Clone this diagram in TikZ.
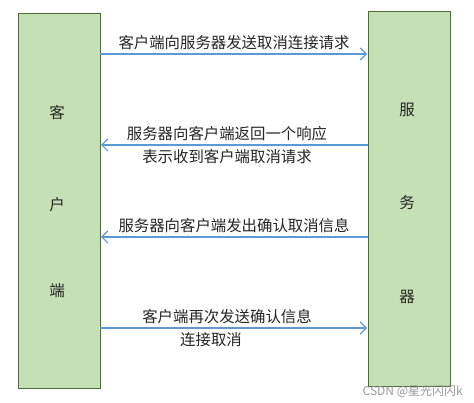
\documentclass[tikz,border=0pt]{standalone}
\usepackage{fontspec}
\setmainfont{Noto Sans CJK SC}
\usetikzlibrary{arrows.meta}
\definecolor{boxfill}{HTML}{C5E0B4}
\definecolor{boxline}{HTML}{4E6B3A}
\definecolor{arrowblue}{HTML}{5B9BD5}
\begin{document}
\begin{tikzpicture}[x=1pt,y=-1pt,
  party/.style={draw=boxline,fill=boxfill,line width=1pt,minimum width=82pt,minimum height=375pt,inner sep=0pt,anchor=north west},
  msg/.style={draw=arrowblue,line width=1.2pt,-{Straight Barb[length=6pt,width=12pt,line width=1.2pt]}},
  lbl/.style={font=\fontsize{15.4}{17}\selectfont,text=black!85,inner sep=0pt},
  vlbl/.style={font=\fontsize{15.5}{17}\selectfont,text=black!85,inner sep=0pt}]
\useasboundingbox (0,0) rectangle (474,403);
\fill[white] (0,0) rectangle (474,403);
\node[party] (client) at (18,13) {};
\node[party] (server) at (368,11) {};
\node[vlbl] (c1) at (57,113) {客};
\node[vlbl] (c2) at (57,205) {户};
\node[vlbl] (c3) at (57,291) {端};
\node[vlbl] (s1) at (407,110) {服};
\node[vlbl] (s2) at (407,203) {务};
\node[vlbl] (s3) at (407,297) {器};
\coordinate (a1s) at (100,54); \coordinate (a1e) at (367,54);
\coordinate (a2s) at (368,145); \coordinate (a2e) at (101,145);
\coordinate (a3s) at (368,237); \coordinate (a3e) at (101,237);
\coordinate (a4s) at (100,328); \coordinate (a4e) at (367,328);
\draw[msg] (a1s) -- (a1e);
\draw[msg] (a2s) -- (a2e);
\draw[msg] (a3s) -- (a3e);
\draw[msg] (a4s) -- (a4e);
\node[lbl] (t1) at (234,43) {客户端向服务器发送取消连接请求};
\node[lbl] (t2a) at (227,134) {服务器向客户端返回一个响应};
\node[lbl] (t2b) at (227,157) {表示收到客户端取消请求};
\node[lbl] (t3) at (234,226) {服务器向客户端发出确认取消信息};
\node[lbl] (t4a) at (227,317) {客户端再次发送确认信息};
\node[lbl] (t4b) at (211,340) {连接取消};
\node[font=\fontsize{12}{13}\selectfont,text=black!40,inner sep=0pt,anchor=east] (wm) at (463,391) {CSDN @星光闪闪k};
\end{tikzpicture}
\end{document}
